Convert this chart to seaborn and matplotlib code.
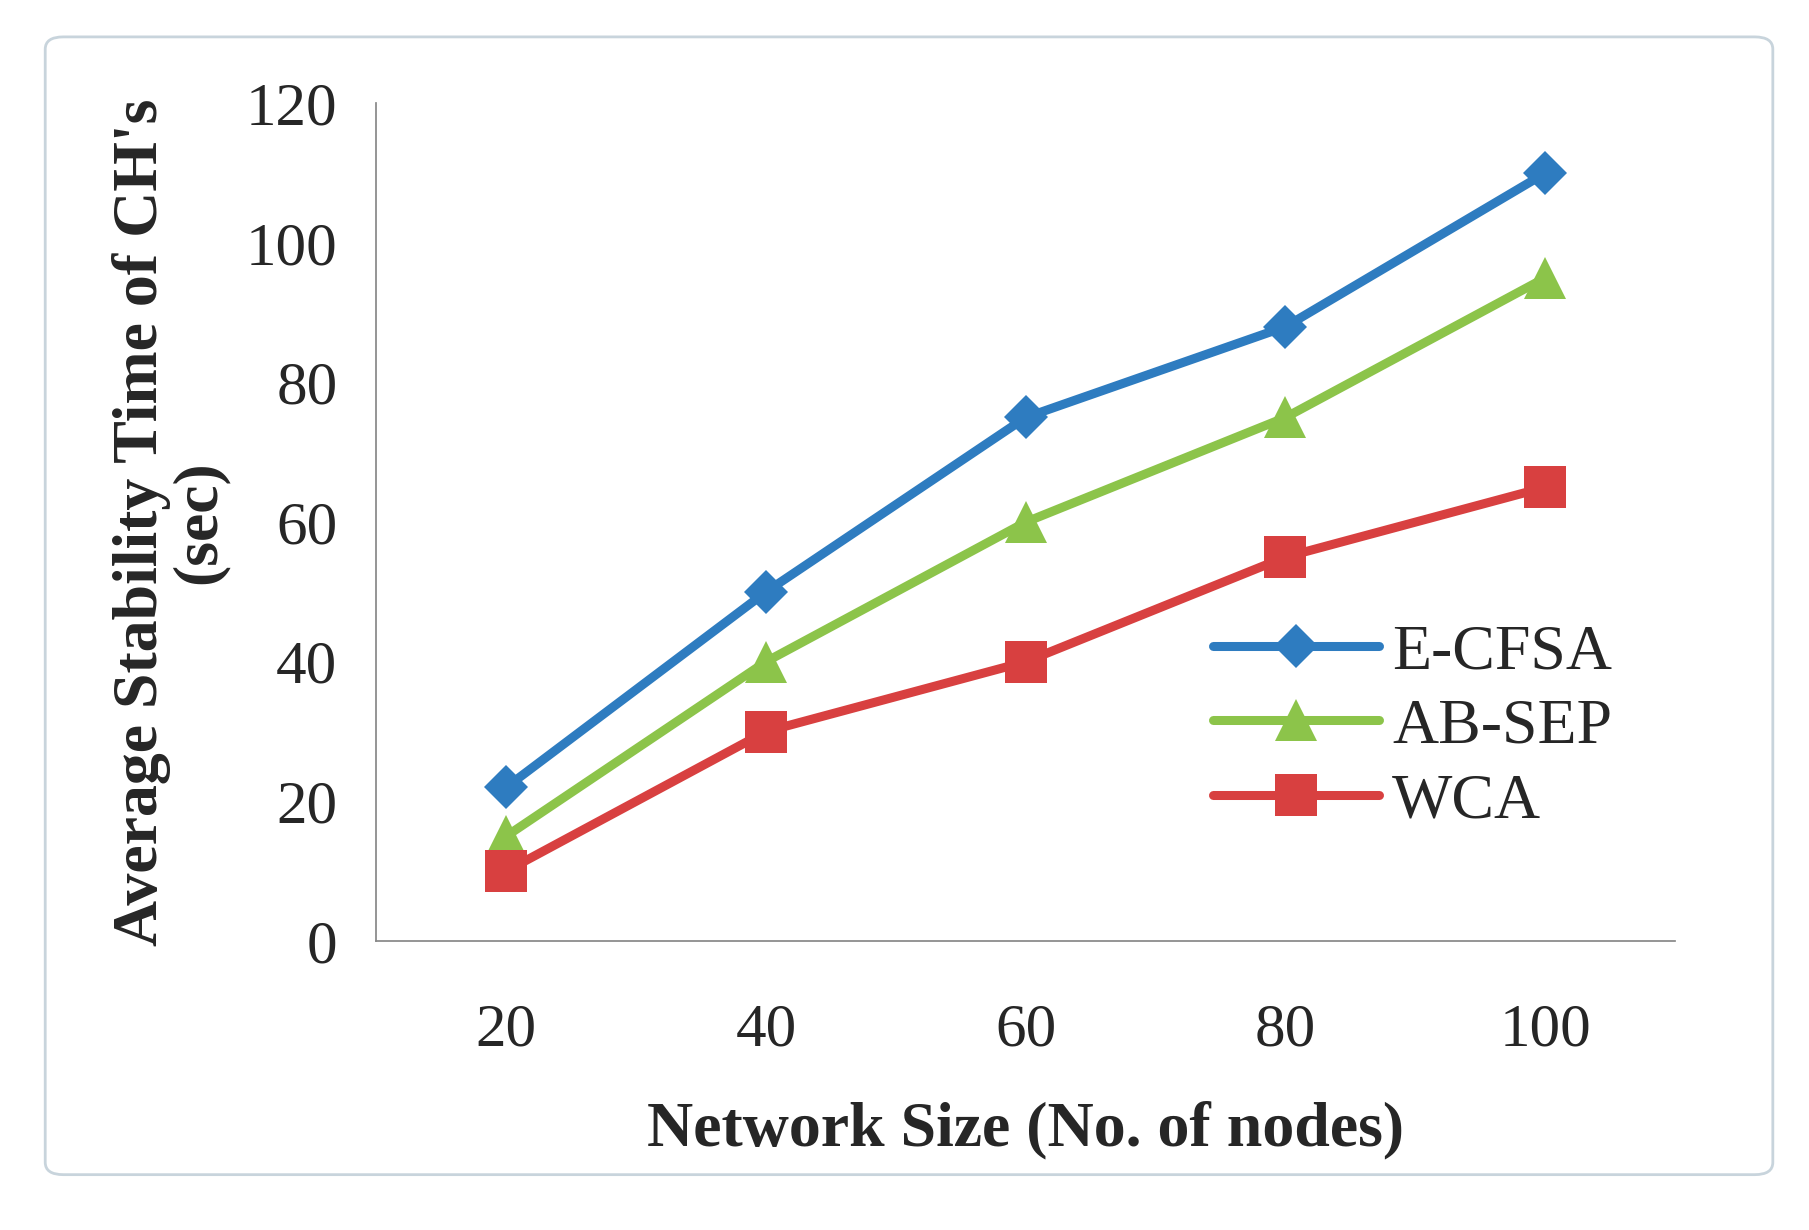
import matplotlib
matplotlib.use("Agg")
import matplotlib.pyplot as plt
import seaborn as sns
import pandas as pd
from matplotlib.patches import FancyBboxPatch

nodes = ["20", "40", "60", "80", "100"]
ecfsa = [22, 50, 75, 88, 110]
abs_ep = [15, 40, 60, 75, 95]
wca = [10, 30, 40, 55, 65]

df = pd.DataFrame({
    "nodes": nodes * 3,
    "value": ecfsa + abs_ep + wca,
    "series": ["E-CFSA"] * 5 + ["AB-SEP"] * 5 + ["WCA"] * 5,
})

sns.set_theme(style="white")
plt.rcParams['font.family'] = ['Liberation Serif', 'DejaVu Serif']

fig = plt.figure(figsize=(18.09, 12.30), dpi=100)
fig.patches.append(FancyBboxPatch((0.025, 0.045), 0.955, 0.925, boxstyle="round,pad=0,rounding_size=0.01",
                                  transform=fig.transFigure, fill=False, ec="#c8d4dc", lw=2))
ax = fig.add_axes([0.208, 0.235, 0.718, 0.681])

palette = {"E-CFSA": "#2e7cc0", "AB-SEP": "#8cc44a", "WCA": "#d84040"}
markers = {"E-CFSA": "D", "AB-SEP": "^", "WCA": "s"}
sizes = {"E-CFSA": 22, "AB-SEP": 30, "WCA": 30}
for s in ["E-CFSA", "AB-SEP", "WCA"]:
    d = df[df.series == s]
    sns.lineplot(data=d, x="nodes", y="value", ax=ax, color=palette[s], marker=markers[s],
                 markersize=sizes[s], markeredgewidth=0, linewidth=6.5, label=s, sort=False)

ax.set_xlim(-0.5, 4.5)
ax.set_ylim(0, 120)
ax.set_yticks(range(0, 121, 20))
ax.tick_params(axis='y', labelsize=44, length=0, pad=28)
ax.tick_params(axis='x', labelsize=44, length=0, pad=45)
for sp in ["top", "right"]:
    ax.spines[sp].set_visible(False)
ax.spines["left"].set_color("#888888")
ax.spines["bottom"].set_color("#888888")
ax.set_xlabel("Network Size (No. of nodes)", fontsize=46, fontweight="bold", labelpad=30)
ax.set_ylabel("Average Stability Time of CH's\n(sec)", fontsize=46, fontweight="bold", labelpad=12,
              linespacing=1.0)
leg = ax.legend(loc="center left", bbox_to_anchor=(0.6, 0.255), frameon=False, fontsize=46,
                handlelength=2.6, labelspacing=0.25, handletextpad=0.2)
fig.savefig("out.png", dpi=100)
